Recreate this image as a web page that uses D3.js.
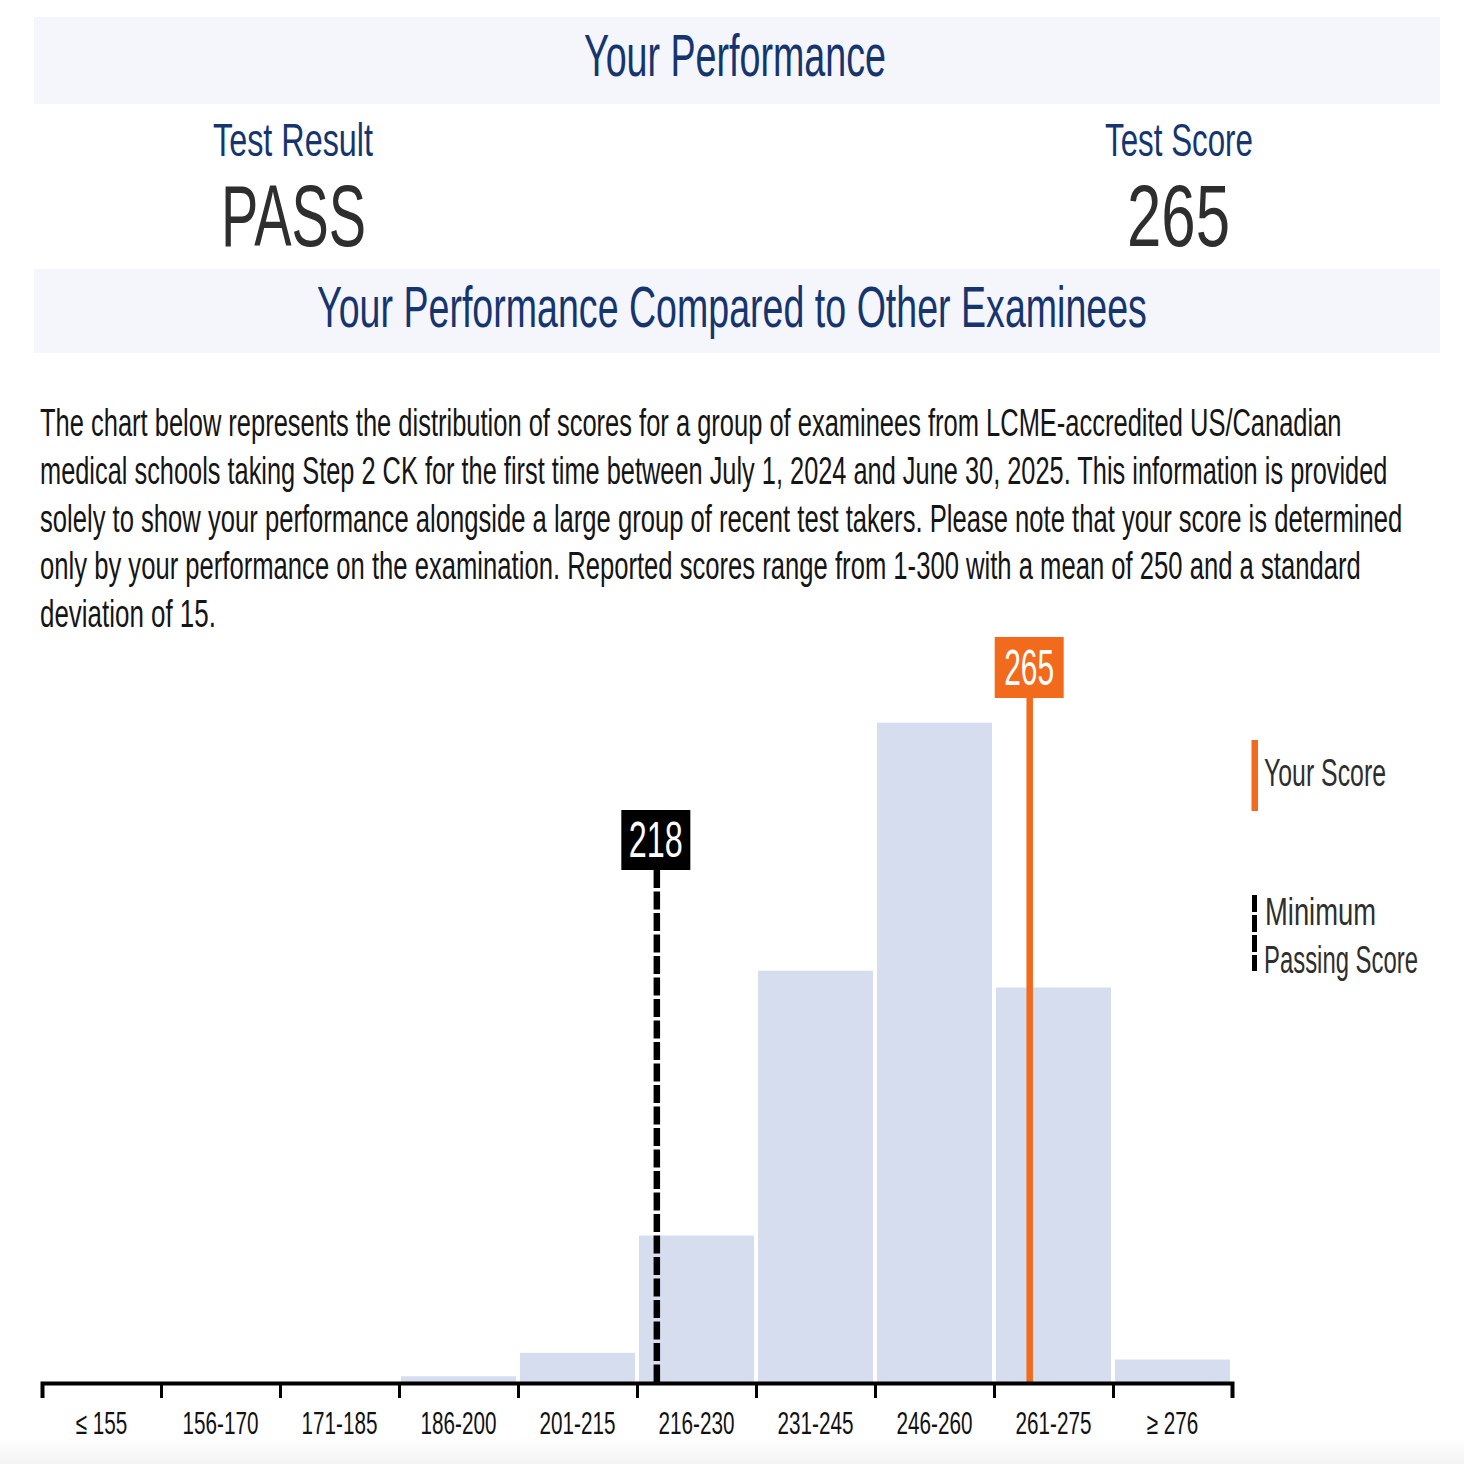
<!DOCTYPE html>
<html>
<head>
<meta charset="utf-8">
<script src="https://cdn.jsdelivr.net/npm/d3@7"></script>
<style>
  html, body { margin: 0; padding: 0; background: #ffffff; }
  svg { display: block; }
  text { font-family: "Liberation Sans Narrow", "Liberation Sans", "DejaVu Sans Condensed", sans-serif; }
</style>
</head>
<body>
<svg id="chart" width="1464" height="1464"></svg>
<script>
// ---------------- DATA ----------------
const categories = ["\u2264 155", "156-170", "171-185", "186-200", "201-215", "216-230", "231-245", "246-260", "261-275", "\u2265 276"];
const binEdges = [140.5, 155.5, 170.5, 185.5, 200.5, 215.5, 230.5, 245.5, 260.5, 275.5, 290.5];
const percentValues = [0, 0, 0, 0.4, 1.8, 8.8, 24.6, 39.4, 23.6, 1.4];
const yourScore = 265;
const minPassingScore = 218;
const testResult = "PASS";
const titleText = "Your Performance";
const subtitleText = "Your Performance Compared to Other Examinees";
const resultLabel = "Test Result";
const scoreLabel = "Test Score";
const paragraphLines = [
  "The chart below represents the distribution of scores for a group of examinees from LCME-accredited US/Canadian",
  "medical schools taking Step 2 CK for the first time between July 1, 2024 and June 30, 2025. This information is provided",
  "solely to show your performance alongside a large group of recent test takers. Please note that your score is determined",
  "only by your performance on the examination. Reported scores range from 1-300 with a mean of 250 and a standard",
  "deviation of 15."
];
const legendYourScore = "Your Score";
const legendMinLines = ["Minimum", "Passing Score"];

// ---------------- STYLE ----------------
const NAVY = "#16356f";
const BAND_BG = "#f4f6fc";
const BAR = "#d5ddef";
const ORANGE = "#f26b1d";
const DARK = "#2e2e2e";

const svg = d3.select("#chart");

// subtle bottom fade
const defs = svg.append("defs");
const grad = defs.append("linearGradient").attr("id", "fade").attr("x1", 0).attr("x2", 0).attr("y1", 0).attr("y2", 1);
grad.append("stop").attr("offset", "0%").attr("stop-color", "#ffffff");
grad.append("stop").attr("offset", "100%").attr("stop-color", "#f3f3f3");
svg.append("rect").attr("x", 0).attr("y", 1438).attr("width", 1464).attr("height", 26).attr("fill", "url(#fade)");

// draw a text at (x,y), horizontally condensed with a transform so it spans width w
function ctext(parent, x, y, str, size, color, w, anchor) {
  const t = parent.append("text")
    .attr("x", 0).attr("y", 0)
    .attr("text-anchor", anchor || "start")
    .attr("font-size", size).attr("fill", color).text(str);
  const nat = t.node().getComputedTextLength();
  const sx = nat > 0 ? w / nat : 1;
  t.attr("transform", `translate(${x},${y}) scale(${sx},1)`);
  return t;
}

// header bands
svg.append("rect").attr("x", 34).attr("y", 17).attr("width", 1406).attr("height", 87).attr("fill", BAND_BG);
svg.append("rect").attr("x", 34).attr("y", 269).attr("width", 1406).attr("height", 84).attr("fill", BAND_BG);

ctext(svg, 735, 76, titleText, 60, NAVY, 302, "middle");

ctext(svg, 293, 156, resultLabel, 47, NAVY, 160, "middle");
ctext(svg, 293.5, 246, testResult, 88, DARK, 145, "middle");

ctext(svg, 1179, 156, scoreLabel, 47, NAVY, 148, "middle");
ctext(svg, 1178.5, 246, String(yourScore), 88, DARK, 103, "middle");

ctext(svg, 732, 327, subtitleText, 58, NAVY, 830, "middle");

// paragraph
const paraWidths = [1302, 1348, 1363, 1321, 176];
paragraphLines.forEach((line, i) => {
  ctext(svg, 40, 436 + i * 47.8, line, 38, "#151515", paraWidths[i], "start");
});

// ---------------- CHART ----------------
const x0 = 42, x1 = 1232, yBase = 1383;
const xScore = d3.scaleLinear().domain([binEdges[0], binEdges[binEdges.length - 1]]).range([x0, x1]);
const xBand = d3.scaleBand().domain(categories).range([x0, x1]).paddingInner(0).paddingOuter(0);
const y = d3.scaleLinear().domain([0, 40]).range([yBase, yBase - 40 * 16.76]);

// bars
svg.append("g").selectAll("rect").data(categories.map((c, i) => ({ c, v: percentValues[i] })))
  .join("rect")
  .attr("x", d => xBand(d.c) + 2)
  .attr("width", xBand.bandwidth() - 4)
  .attr("y", d => y(d.v))
  .attr("height", d => yBase - y(d.v))
  .attr("fill", BAR);

// minimum passing score (dashed)
const xMin = xScore(minPassingScore);
svg.append("line").attr("x1", xMin).attr("x2", xMin).attr("y1", 870).attr("y2", yBase)
  .attr("stroke", "#000").attr("stroke-width", 6.5).attr("stroke-dasharray", "18,3.5");
svg.append("rect").attr("x", xMin - 35.5).attr("y", 810).attr("width", 69).attr("height", 60).attr("fill", "#000");
ctext(svg, xMin - 1, 857, String(minPassingScore), 50, "#fff", 54, "middle");

// your score (orange)
const xYou = xScore(yourScore);
svg.append("line").attr("x1", xYou).attr("x2", xYou).attr("y1", 698).attr("y2", yBase)
  .attr("stroke", ORANGE).attr("stroke-width", 6.5);
svg.append("rect").attr("x", xYou - 35).attr("y", 637).attr("width", 69).attr("height", 61).attr("fill", ORANGE);
ctext(svg, xYou - 0.5, 685, String(yourScore), 50, "#fff", 50, "middle");

// axis with ticks at bin edges
const axisTicks = svg.append("g").attr("transform", `translate(0,${yBase})`)
  .call(d3.axisBottom(xScore).tickValues(binEdges).tickSize(15).tickSizeOuter(15).tickFormat(""));
axisTicks.select(".domain").attr("stroke", "#000").attr("stroke-width", 4).attr("fill", "none");
axisTicks.selectAll(".tick line").attr("stroke", "#000").attr("stroke-width", 3);

// category labels
const axisLabels = svg.append("g").attr("transform", `translate(0,${yBase})`)
  .call(d3.axisBottom(xBand).tickSize(0).tickPadding(0));
axisLabels.select(".domain").remove();
const labelSel = axisLabels.selectAll(".tick text")
  .attr("y", 0).attr("dy", 0)
  .attr("font-size", 31).attr("fill", "#111")
  .style("font-family", '"Liberation Sans Narrow", "Liberation Sans", sans-serif');
const refNode = labelSel.filter(d => d === "156-170").node();
const condense = refNode ? 76 / refNode.getComputedTextLength() : 1;
labelSel.attr("transform", `translate(0,51) scale(${condense},1)`);

// ---------------- LEGEND ----------------
svg.append("rect").attr("x", 1251.5).attr("y", 740).attr("width", 6.5).attr("height", 71).attr("fill", ORANGE);
ctext(svg, 1264, 786, legendYourScore, 39, DARK, 122, "start");

svg.append("line").attr("x1", 1254.5).attr("x2", 1254.5).attr("y1", 895).attr("y2", 971)
  .attr("stroke", "#000").attr("stroke-width", 5).attr("stroke-dasharray", "17,3");
ctext(svg, 1265, 925, legendMinLines[0], 39, DARK, 111, "start");
ctext(svg, 1264, 973, legendMinLines[1], 39, DARK, 154, "start");
</script>
</body>
</html>
